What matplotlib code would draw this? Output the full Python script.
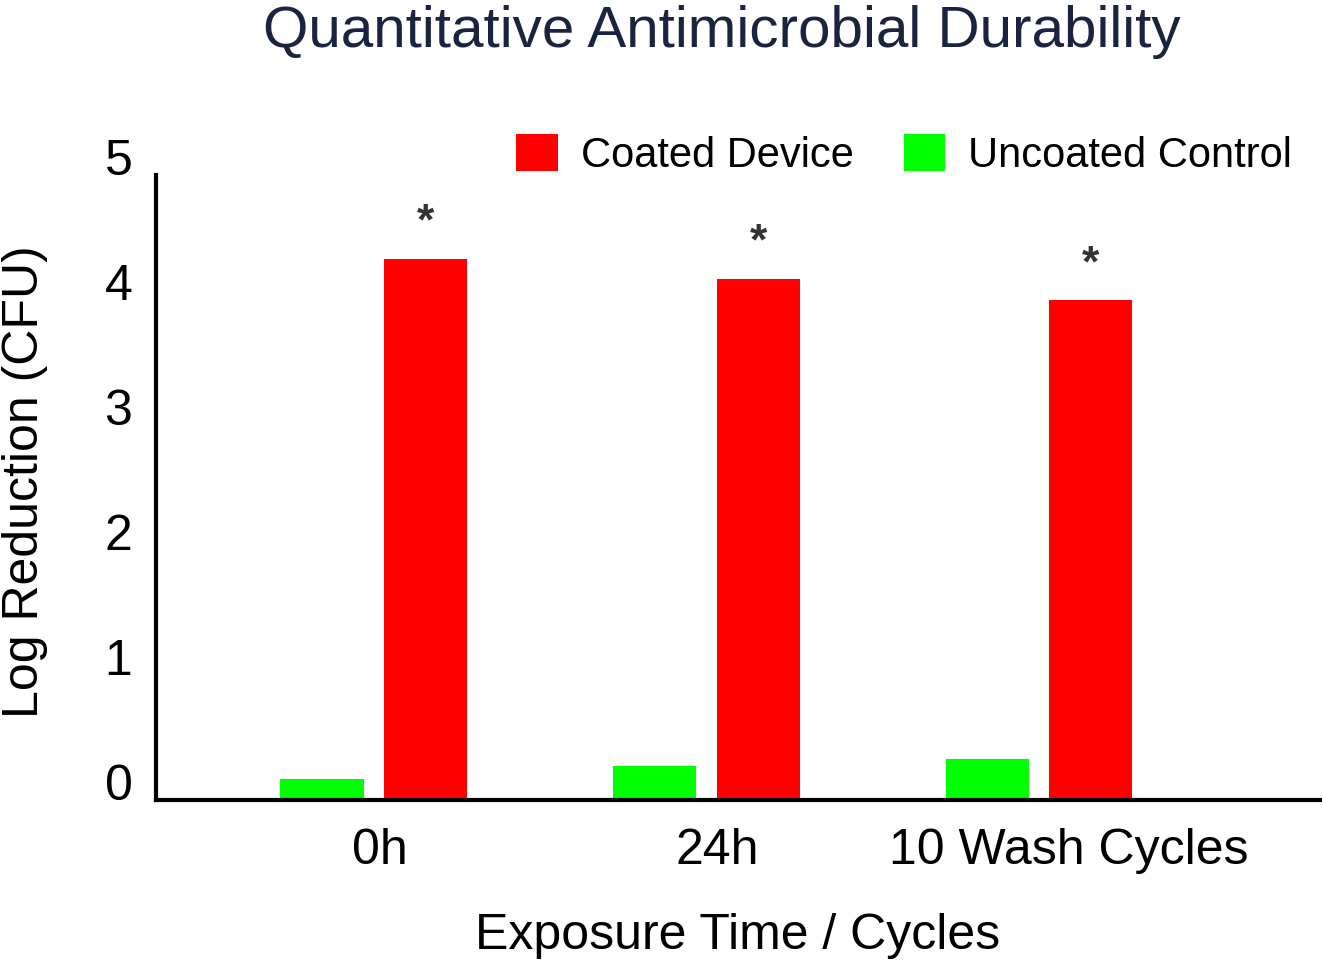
import numpy as np
import matplotlib
matplotlib.use("Agg")
import matplotlib.pyplot as plt
import matplotlib.transforms as mtransforms

plt.rcParams['font.family'] = ['Liberation Sans', 'DejaVu Sans']

# data
categories = ["0h", "24h", "10 Wash Cycles"]
coated = [4.33, 4.17, 4.0]
uncoated = [0.17, 0.27, 0.33]
sig_marks = ["*", "*", "*"]

fig = plt.figure(figsize=(13.23, 9.63), dpi=100)
ax = fig.add_axes([156/1323, 1 - 800/963, (1320 - 156)/1323, (800 - 175)/963])

x = np.arange(len(categories))
w = 0.25
off = 0.156
ax.bar(x - off, uncoated, w, color="#00ff00", label="Uncoated Control")
ax.bar(x + off, coated, w, color="#ff0000", label="Coated Device")

for xi, v, m in zip(x, coated, sig_marks):
    ax.text(xi + off, v + 0.12, m, ha="center", va="bottom", fontsize=32,
            fontweight="bold", color="#333333")

ax.set_xlim(-0.655, 2.845)
ax.set_ylim(0, 5)
ax.set_yticks([0, 1, 2, 3, 4, 5])
ax.set_xticks(x)
ax.set_xticklabels(categories)
ax.tick_params(axis="both", length=0, labelsize=36)
ax.tick_params(axis="y", pad=17)
ax.tick_params(axis="x", pad=20)

# labels sit a little above their tick in the reference
for lab in ax.get_yticklabels():
    lab.set_transform(lab.get_transform() + mtransforms.ScaledTranslation(0, 18/100, fig.dpi_scale_trans))
for lab, dx in zip(ax.get_xticklabels(), [6, 11, 30]):
    lab.set_transform(lab.get_transform() + mtransforms.ScaledTranslation(dx/100, 0, fig.dpi_scale_trans))

for s in ["top", "right"]:
    ax.spines[s].set_visible(False)
for s in ["left", "bottom"]:
    ax.spines[s].set_linewidth(3)

ax.set_xlabel("Exposure Time / Cycles", fontsize=36, labelpad=28)
ax.set_ylabel("Log Reduction (CFU)", fontsize=36)
ax.yaxis.set_label_coords(-0.093, 0.51)

fig.text(722/1323, 1 - 32/963, "Quantitative Antimicrobial Durability", ha="center", va="center",
         fontsize=42, color="#1a2340")

h, l = ax.get_legend_handles_labels()
fig.legend(h[::-1], l[::-1], loc="center right", bbox_to_anchor=(1292/1323, 1 - 155/963),
           ncol=2, frameon=False, fontsize=30, handlelength=1.0, handleheight=1.0,
           handletextpad=0.55, columnspacing=1.2, borderpad=0, borderaxespad=0)

fig.savefig("out.png", dpi=100)
